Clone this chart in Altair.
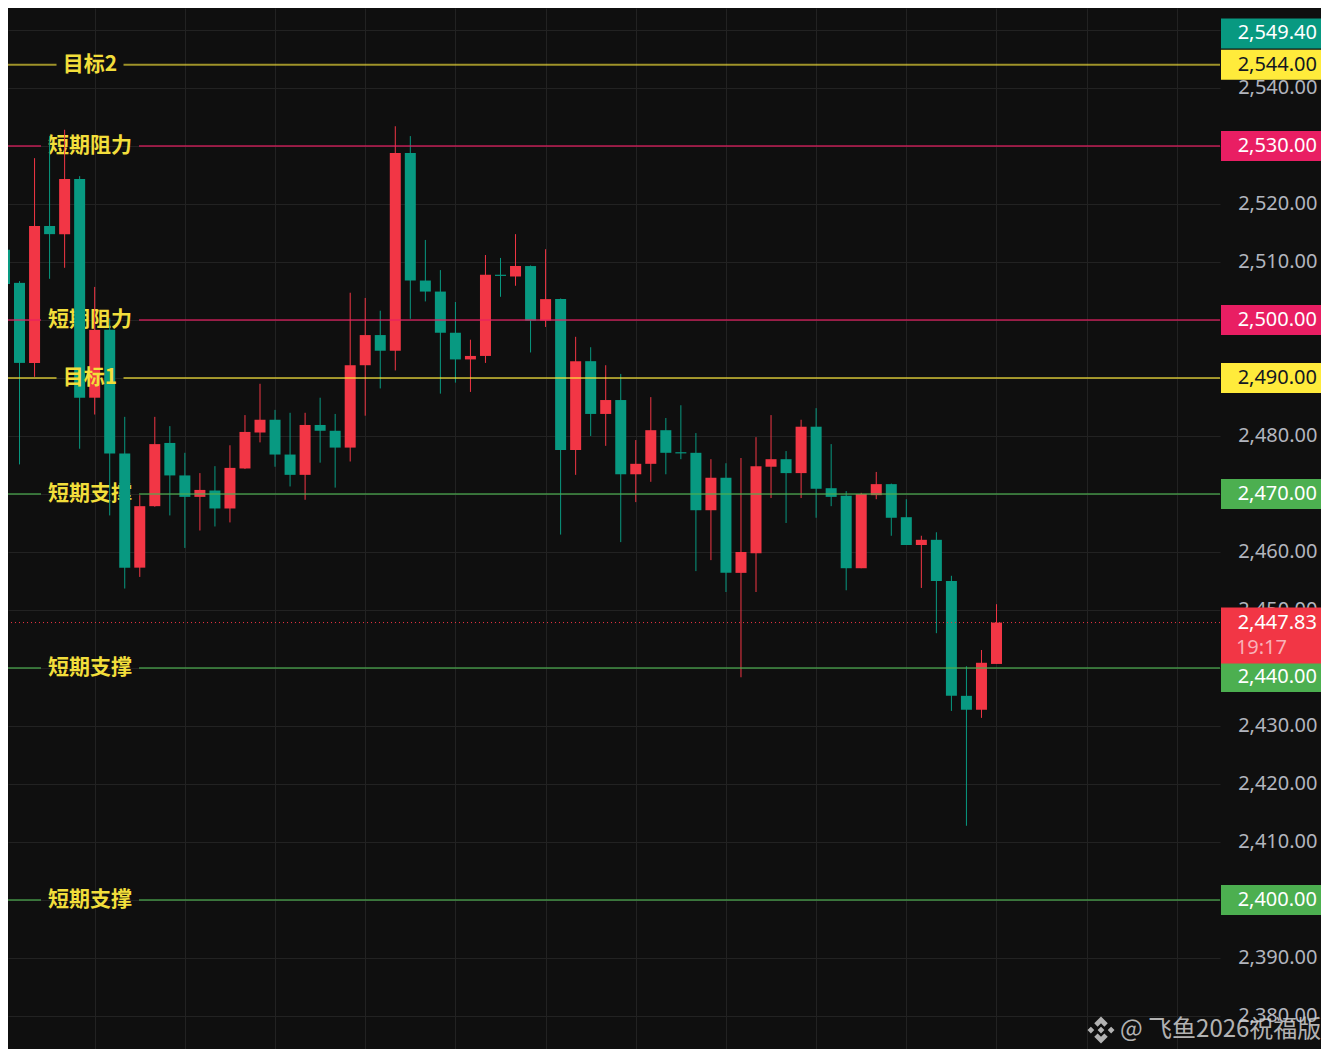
import altair as alt
import pandas as pd

# ---------------- data ----------------
opens = [2512.1, 2506.4, 2492.6, 2516.2, 2514.8, 2524.3, 2486.6, 2498.3, 2477.0, 2457.3,
         2467.9, 2478.8, 2473.2, 2469.5, 2470.6, 2467.5, 2474.4, 2480.6, 2482.8, 2476.8,
         2473.3, 2481.9, 2480.9, 2478.0, 2492.2, 2497.4, 2494.7, 2528.8, 2506.8, 2504.9,
         2497.8, 2493.2, 2493.8, 2507.8, 2507.5, 2509.3, 2499.9, 2503.6, 2477.6, 2492.9,
         2483.8, 2486.2, 2473.4, 2475.2, 2481.0, 2477.2, 2477.1, 2467.2, 2472.8, 2456.4,
         2459.8, 2474.7, 2476.0, 2473.6, 2481.6, 2471.0, 2469.7, 2457.2, 2469.8, 2471.7,
         2466.0, 2461.2, 2462.1, 2455.0, 2435.2, 2432.8, 2440.7]
highs = [2519.3, 2506.7, 2527.9, 2531.7, 2532.8, 2524.8, 2505.7, 2500.3, 2483.3, 2469.8,
         2483.3, 2481.7, 2477.1, 2473.6, 2474.8, 2478.4, 2483.6, 2489.0, 2484.5, 2484.0,
         2484.0, 2486.6, 2483.8, 2504.7, 2503.8, 2501.6, 2533.4, 2531.7, 2513.8, 2508.6,
         2503.1, 2496.6, 2511.2, 2510.7, 2514.8, 2509.4, 2512.2, 2503.7, 2497.1, 2495.3,
         2492.2, 2490.7, 2479.3, 2486.7, 2483.1, 2485.3, 2480.5, 2476.0, 2475.3, 2476.2,
         2479.8, 2483.6, 2477.4, 2482.8, 2484.8, 2478.6, 2470.5, 2470.2, 2473.8, 2471.8,
         2469.1, 2462.8, 2463.4, 2455.9, 2440.3, 2443.1, 2451.0]
lows = [2501.0, 2475.1, 2490.2, 2507.1, 2509.0, 2477.8, 2483.7, 2466.3, 2453.7, 2455.7,
        2467.8, 2466.3, 2460.7, 2463.7, 2464.4, 2465.1, 2474.3, 2478.9, 2474.7, 2471.3,
        2469.0, 2475.4, 2471.1, 2475.6, 2483.5, 2488.2, 2491.3, 2500.2, 2503.2, 2487.3,
        2489.2, 2487.6, 2492.6, 2504.0, 2505.9, 2494.4, 2498.8, 2463.0, 2473.3, 2480.0,
        2478.3, 2461.7, 2468.6, 2472.1, 2473.4, 2476.0, 2456.7, 2458.6, 2453.1, 2438.4,
        2453.1, 2469.3, 2465.0, 2469.3, 2465.9, 2467.9, 2453.4, 2457.2, 2469.1, 2462.8,
        2461.2, 2453.8, 2446.0, 2432.6, 2412.8, 2431.4, 2440.7]
closes = [2506.2, 2492.6, 2516.2, 2514.8, 2524.3, 2486.6, 2498.3, 2477.0, 2457.3, 2467.9,
          2478.6, 2473.2, 2469.5, 2470.7, 2467.5, 2474.5, 2480.7, 2482.8, 2476.8, 2473.3,
          2481.9, 2480.9, 2478.0, 2492.2, 2497.4, 2494.7, 2528.8, 2506.8, 2504.9, 2497.8,
          2493.2, 2493.8, 2507.8, 2507.6, 2509.3, 2499.9, 2503.6, 2477.6, 2492.9, 2483.8,
          2486.2, 2473.4, 2475.2, 2481.0, 2477.1, 2477.0, 2467.2, 2472.8, 2456.4, 2460.0,
          2474.8, 2476.0, 2473.6, 2481.6, 2470.9, 2469.5, 2457.2, 2470.0, 2471.7, 2465.9,
          2461.2, 2462.1, 2455.0, 2435.2, 2432.8, 2440.9, 2447.83]

level_prices = [2544.0, 2530.0, 2500.0, 2490.0, 2470.0, 2440.0, 2400.0]
level_labels = ["目标2", "短期阻力", "短期阻力", "目标1", "短期支撑", "短期支撑", "短期支撑"]
level_kinds = ["target", "resist", "resist", "target", "support", "support", "support"]

box_prices = [2549.40, 2544.00, 2530.00, 2500.00, 2490.00, 2470.00, 2400.00]
box_kinds = ["high", "target", "resist", "resist", "target", "support", "support"]
shifted_box_price = 2440.00
shifted_box_kind = "support"

last_price = 2447.83
countdown = "19:17"

y_ticks = list(range(2380, 2551, 10))
watermark = "@ 飞鱼2026祝福版"

# ---------------- style ----------------
BG = "#0f0f0f"
GRID = "#222222"
UP = "#f23645"
DOWN = "#089981"
LINE_COL = {"target": "#ffeb3b", "resist": "#e91e63", "support": "#4caf50"}
BOX_BG = {"high": "#089981", "target": "#ffeb3b", "resist": "#e91e63", "support": "#4caf50"}
BOX_FG = {"high": "#ffffff", "target": "#131722", "resist": "#ffffff", "support": "#ffffff"}

W, H = 1212, 1041
X0, X1 = 0.233, 80.87
Y0, Y1 = 2374.31, 2553.79
PX = H / (Y1 - Y0)          # pixels per price unit
BAR_W = 0.732               # body width in candle units
LABEL_X = 5.69              # label centre in candle units
CAND_PX = W / (X1 - X0)

xs = alt.Scale(domain=[X0, X1], nice=False, zero=False)
ys = alt.Scale(domain=[Y0, Y1], nice=False, zero=False)

xaxis = alt.Axis(values=list(range(0, 81, 6)), grid=True, gridColor=GRID, gridWidth=1,
                 labels=False, ticks=False, domain=False, title=None, zindex=0)
yaxis = alt.Axis(orient="right", values=y_ticks, format=",.2f", grid=True, gridColor=GRID,
                 gridWidth=1, labelColor="#b2b5be", labelFont="Noto Sans", labelFontSize=20,
                 labelAlign="right", labelBaseline="middle", labelPadding=97, ticks=False,
                 tickSize=0, domain=False, title=None, zindex=0, labelFlush=False,
                 labelOverlap=False)

# ---------------- tables ----------------
cdf = pd.DataFrame({"idx": list(range(len(opens))), "open": opens, "high": highs,
                    "low": lows, "close": closes})
cdf["dir"] = ["up" if c >= o else "down" for o, c in zip(opens, closes)]
cdf["bx0"] = cdf["idx"] - BAR_W / 2
cdf["bx1"] = cdf["idx"] + BAR_W / 2

rows = []
for p, lab, k in zip(level_prices, level_labels, level_kinds):
    text_px = 84 if k != "target" else 53
    half = (text_px / 2 + 7) / CAND_PX
    rows.append({"price": p, "col": LINE_COL[k], "a": X0, "b": LABEL_X - half})
    rows.append({"price": p, "col": LINE_COL[k], "a": LABEL_X + half, "b": X1})
seg_df = pd.DataFrame(rows)
lab_df = pd.DataFrame({"price": level_prices, "label": level_labels, "kind": level_kinds})
lab_df["lx"] = LABEL_X
lab_under = lab_df[lab_df["kind"] != "target"]
lab_over = lab_df[lab_df["kind"] == "target"]

bdf = pd.DataFrame({"price": box_prices, "kind": box_kinds})
bdf["bg"] = bdf["kind"].map(BOX_BG)
bdf["fg"] = bdf["kind"].map(BOX_FG)
bdf["txt"] = [f"{p:,.2f}" for p in box_prices]

sdf = pd.DataFrame({"price": [shifted_box_price], "kind": [shifted_box_kind]})
sdf["bg"] = sdf["kind"].map(BOX_BG)
sdf["fg"] = sdf["kind"].map(BOX_FG)
sdf["txt"] = [f"{shifted_box_price:,.2f}"]

ldf = pd.DataFrame({"price": [last_price], "txt": [f"{last_price:,.2f}"], "cd": [countdown]})
one = pd.DataFrame({"a": [0]})

half_box = 15 / PX

# ---------------- layers ----------------
def label_layer(df):
    return alt.Chart(df).mark_text(font="Noto Sans CJK SC", fontSize=21, fontWeight="bold",
                                   color="#f2de3b", align="center", baseline="middle").encode(
        x=alt.X("lx:Q", scale=xs, axis=xaxis),
        y=alt.Y("price:Q", scale=ys, axis=yaxis),
        text="label:N")

labels_under = label_layer(lab_under)
labels_over = label_layer(lab_over)

cscale = alt.Scale(domain=["up", "down"], range=[UP, DOWN])
wicks = alt.Chart(cdf).mark_rule(strokeWidth=1, clip=True).encode(
    x=alt.X("idx:Q", scale=xs, axis=xaxis),
    y=alt.Y("low:Q", scale=ys, axis=yaxis), y2="high:Q",
    color=alt.Color("dir:N", scale=cscale, legend=None))
bodies = alt.Chart(cdf).mark_rect(clip=True).encode(
    x=alt.X("bx0:Q", scale=xs, axis=xaxis), x2="bx1:Q",
    y=alt.Y("open:Q", scale=ys, axis=yaxis), y2="close:Q",
    color=alt.Color("dir:N", scale=cscale, legend=None))

levels = alt.Chart(seg_df).mark_rule(strokeWidth=2, clip=True, opacity=0.6).encode(
    x=alt.X("a:Q", scale=xs, axis=xaxis), x2="b:Q",
    y=alt.Y("price:Q", scale=ys, axis=yaxis),
    color=alt.Color("col:N", scale=None))

last_line = alt.Chart(ldf).mark_rule(color=UP, strokeWidth=1, strokeDash=[1, 3]).encode(
    y=alt.Y("price:Q", scale=ys, axis=yaxis))

boxes = alt.Chart(bdf).transform_calculate(
    top=f"datum.price + {half_box}", bot=f"datum.price - {half_box}"
).mark_rect(cornerRadiusTopRight=3, cornerRadiusBottomRight=3).encode(
    x=alt.value(W + 1), x2=alt.value(W + 106),
    y=alt.Y("top:Q", scale=ys, axis=yaxis), y2="bot:Q",
    color=alt.Color("bg:N", scale=None))
box_txt = alt.Chart(bdf).mark_text(font="Noto Sans", fontSize=20, align="right",
                                   baseline="middle").encode(
    x=alt.value(W + 97), y=alt.Y("price:Q", scale=ys, axis=yaxis),
    text="txt:N", color=alt.Color("fg:N", scale=None))

sboxes = alt.Chart(sdf).transform_calculate(
    top=f"datum.price + {half_box}", bot=f"datum.price - {half_box}"
).mark_rect(yOffset=9, y2Offset=9).encode(
    x=alt.value(W + 1), x2=alt.value(W + 106),
    y=alt.Y("top:Q", scale=ys, axis=yaxis), y2="bot:Q",
    color=alt.Color("bg:N", scale=None))
sbox_txt = alt.Chart(sdf).mark_text(font="Noto Sans", fontSize=20, align="right",
                                    baseline="middle", dy=9).encode(
    x=alt.value(W + 97), y=alt.Y("price:Q", scale=ys, axis=yaxis),
    text="txt:N", color=alt.Color("fg:N", scale=None))

lbox = alt.Chart(ldf).transform_calculate(
    top=f"datum.price + {half_box}", bot=f"datum.price - {41 / PX}"
).mark_rect(color=UP).encode(
    x=alt.value(W + 1), x2=alt.value(W + 106),
    y=alt.Y("top:Q", scale=ys, axis=yaxis), y2="bot:Q")
lbox_txt = alt.Chart(ldf).mark_text(font="Noto Sans", fontSize=20, align="right",
                                    baseline="middle", color="#ffffff").encode(
    x=alt.value(W + 97), y=alt.Y("price:Q", scale=ys, axis=yaxis), text="txt:N")
lbox_cd = alt.Chart(ldf).mark_text(font="Noto Sans", fontSize=20, align="right",
                                   baseline="middle", color="#f9b1b8", dy=25).encode(
    x=alt.value(W + 67), y=alt.Y("price:Q", scale=ys, axis=yaxis), text="cd:N")

LOGO = ("M0,-1L0.5,-0.5L0.25,-0.25L0,-0.5L-0.25,-0.25L-0.5,-0.5Z"
        "M0,1L0.5,0.5L0.25,0.25L0,0.5L-0.25,0.25L-0.5,0.5Z"
        "M0,-0.25L0.25,0L0,0.25L-0.25,0Z"
        "M-0.75,-0.25L-0.5,0L-0.75,0.25L-1,0Z"
        "M0.75,-0.25L1,0L0.75,0.25L0.5,0Z")
logo = alt.Chart(one).mark_point(shape=LOGO, filled=True, size=729, color="#cfcfcf",
                                 opacity=0.85, strokeWidth=0).encode(
    x=alt.value(1093), y=alt.value(1022))
wm = alt.Chart(one).mark_text(font="Noto Sans CJK SC", fontSize=24, align="left",
                              baseline="middle", color="#cfcfcf", opacity=0.85).encode(
    x=alt.value(1112), y=alt.value(1022), text=alt.value(watermark))

chart = alt.layer(
    labels_under, wicks, bodies, levels, labels_over, last_line,
    boxes, box_txt, sboxes, sbox_txt, lbox, lbox_txt, lbox_cd, logo, wm
).properties(
    width=W, height=H, background=BG,
    padding={"left": 0, "top": 0, "right": 101, "bottom": 0},
    autosize=alt.AutoSizeParams(type="none"),
).configure_view(strokeWidth=0)

chart.save("out.html", embed_options={"renderer": "svg", "actions": False})
